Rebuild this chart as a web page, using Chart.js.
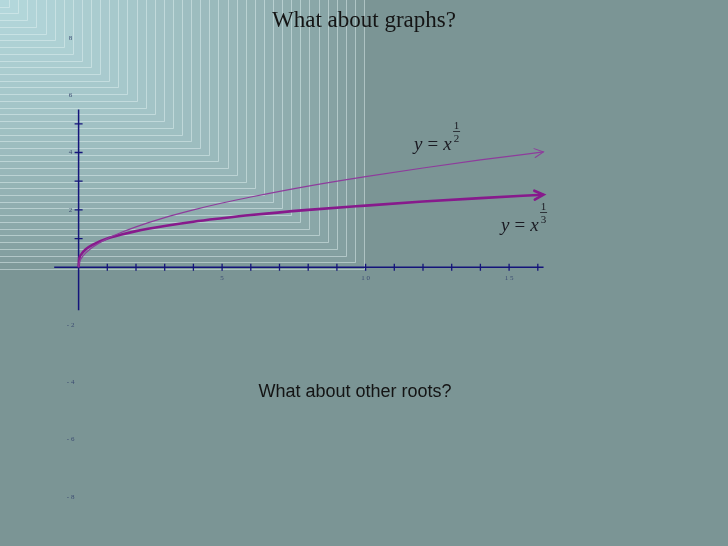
<!DOCTYPE html>
<html>
<head>
<meta charset="utf-8">
<title>What about graphs?</title>
<script src="https://cdn.jsdelivr.net/npm/chart.js@4/dist/chart.umd.min.js"></script>
<style>
  html, body { margin: 0; padding: 0; background: #7b9595; }
  #wrap { position: relative; width: 728px; height: 546px; }
</style>
</head>
<body>
<div id="wrap"><canvas id="chart"></canvas></div>
<script>
'use strict';

// ── DATA ─────────────────────────────────────────────────────

const X_VALUES    = [0, 0.02, 0.1, 0.25, 0.5, 1, 1.5, 2, 3, 4, 5, 6, 8, 10, 12, 14, 16.2];
const SQRT_VALUES = [0, 0.14, 0.32, 0.5, 0.71, 1, 1.22, 1.41, 1.73, 2, 2.24, 2.45, 2.83, 3.16, 3.46, 3.74, 4.02];
const CBRT_VALUES = [0, 0.27, 0.46, 0.63, 0.79, 1, 1.14, 1.26, 1.44, 1.59, 1.71, 1.82, 2, 2.15, 2.29, 2.41, 2.53];

const X_TICKS  = [1, 2, 3, 4, 5, 6, 7, 8, 9, 10, 11, 12, 13, 14, 15, 16];
const Y_TICKS  = [1, 2, 3, 4, 5];
const X_LABELS = [5, 10, 15];
const Y_LABELS = [8, 6, 4, 2, -2, -4, -6, -8];

const X_AXIS_RANGE = [-0.85, 16.2];
const Y_AXIS_RANGE = [-1.5, 5.5];

const TITLE   = 'What about graphs?';
const CAPTION = 'What about other roots?';

// ── COLOURS ──────────────────────────────────────────────────

const BG       = [123, 149, 149];
const BG_LIGHT = [180, 216, 220];
const AXIS     = '#14147a';
const THIN     = '#8e3c9c';
const THICK    = '#871a8c';

function mix(a, b, t) {
  return 'rgb(' + a.map((v, i) => Math.round(v + (b[i] - v) * t)).join(',') + ')';
}

// ── PLUGINS ──────────────────────────────────────────────────

const slideBackground = {
  id: 'slideBackground',
  beforeDraw(chart) {
    const ctx = chart.ctx;
    ctx.save();
    ctx.fillStyle = mix(BG, BG, 0);
    ctx.fillRect(0, 0, chart.width, chart.height);
    const N = 40, W0 = 364, H0 = 269;
    for (let i = 0; i < N; i++) {
      const k = 1 - i / N;
      const w = W0 * k, h = H0 * k;
      ctx.fillStyle = mix(BG, BG_LIGHT, Math.pow((i + 1) / N, 0.7));
      ctx.fillRect(0, 0, w, h);
      ctx.strokeStyle = 'rgba(225,242,242,0.5)';
      ctx.lineWidth = 1;
      ctx.beginPath();
      ctx.moveTo(Math.round(w) + 0.5, 0);
      ctx.lineTo(Math.round(w) + 0.5, Math.round(h) + 0.5);
      ctx.lineTo(0, Math.round(h) + 0.5);
      ctx.stroke();
    }
    ctx.restore();
  }
};

const axesPlugin = {
  id: 'axesPlugin',
  beforeDatasetsDraw(chart) {
    const { ctx, scales: { x, y } } = chart;
    const x0 = x.getPixelForValue(0), y0 = y.getPixelForValue(0);
    ctx.save();
    ctx.strokeStyle = AXIS;
    ctx.lineWidth = 1.5;
    ctx.beginPath();
    ctx.moveTo(x.getPixelForValue(X_AXIS_RANGE[0]), y0);
    ctx.lineTo(x.getPixelForValue(X_AXIS_RANGE[1]), y0);
    ctx.moveTo(x0, y.getPixelForValue(Y_AXIS_RANGE[0]));
    ctx.lineTo(x0, y.getPixelForValue(Y_AXIS_RANGE[1]));
    ctx.stroke();

    ctx.lineWidth = 1.3;
    ctx.beginPath();
    X_TICKS.forEach(v => {
      const px = x.getPixelForValue(v);
      ctx.moveTo(px, y0 - 3.5);
      ctx.lineTo(px, y0 + 3.5);
    });
    Y_TICKS.forEach(v => {
      const py = y.getPixelForValue(v);
      ctx.moveTo(x0 - 4, py);
      ctx.lineTo(x0 + 4, py);
    });
    ctx.stroke();

    ctx.fillStyle = '#3c4c72';
    ctx.font = '7px "Liberation Serif"';
    ctx.textAlign = 'center';
    ctx.textBaseline = 'middle';
    X_LABELS.forEach(v => {
      ctx.fillText(String(v).split('').join(' '), x.getPixelForValue(v), y0 + 11);
    });
    Y_LABELS.forEach(v => {
      ctx.fillText(v < 0 ? '- ' + (-v) : String(v), x0 - 8, y.getPixelForValue(v));
    });
    ctx.restore();
  }
};

function drawArrow(ctx, meta, color, width, size) {
  const pts = meta.data;
  const a = pts[pts.length - 2], b = pts[pts.length - 1];
  const ang = Math.atan2(b.y - a.y, b.x - a.x);
  ctx.save();
  ctx.translate(b.x, b.y);
  ctx.rotate(ang);
  ctx.strokeStyle = color;
  ctx.lineWidth = width;
  ctx.lineJoin = 'miter';
  ctx.lineCap = 'round';
  ctx.beginPath();
  ctx.moveTo(-size, -size * 0.5);
  ctx.lineTo(0, 0);
  ctx.lineTo(-size, size * 0.5);
  ctx.stroke();
  ctx.restore();
}

function drawPower(ctx, x, baseline, den) {
  ctx.save();
  ctx.fillStyle = '#1a1a22';
  ctx.textBaseline = 'alphabetic';
  ctx.textAlign = 'left';
  ctx.font = 'italic 19px "Liberation Serif"';
  ctx.fillText('y', x, baseline);
  let cx = x + ctx.measureText('y').width + 5;
  ctx.font = '19px "Liberation Serif"';
  ctx.fillText('=', cx, baseline);
  cx += ctx.measureText('=').width + 5;
  ctx.font = 'italic 19px "Liberation Serif"';
  ctx.fillText('x', cx, baseline);
  cx += ctx.measureText('x').width + 5;
  ctx.font = '11px "Liberation Serif"';
  ctx.textAlign = 'center';
  ctx.fillText('1', cx, baseline - 21);
  ctx.fillText(String(den), cx, baseline - 8);
  ctx.strokeStyle = '#1a1a22';
  ctx.lineWidth = 0.8;
  ctx.beginPath();
  ctx.moveTo(cx - 3.5, baseline - 18.5);
  ctx.lineTo(cx + 3.5, baseline - 18.5);
  ctx.stroke();
  ctx.restore();
}

const annotations = {
  id: 'annotations',
  afterDatasetsDraw(chart) {
    const ctx = chart.ctx;
    drawArrow(ctx, chart.getDatasetMeta(0), THIN, 1, 9);
    drawArrow(ctx, chart.getDatasetMeta(1), THICK, 2.6, 9);

    drawPower(ctx, 414, 150, 2);
    drawPower(ctx, 501, 231, 3);

    ctx.save();
    ctx.fillStyle = '#141414';
    ctx.textAlign = 'center';
    ctx.textBaseline = 'alphabetic';
    ctx.font = '23px "Liberation Serif"';
    ctx.fillText(TITLE, 364, 27);
    ctx.font = '18px "Liberation Sans"';
    ctx.fillText(CAPTION, 355, 397);
    ctx.restore();
  }
};

// ── CHART ────────────────────────────────────────────────────

const UNIT = 28.7, ORIGIN_X = 78.6, ORIGIN_Y = 267.3;

function initChart() {
  const ctx = document.getElementById('chart');
  new Chart(ctx, {
    type: 'line',
    data: {
      datasets: [
        {
          label: 'y = x^(1/2)',
          data: X_VALUES.map((x, i) => ({ x, y: SQRT_VALUES[i] })),
          borderColor: THIN,
          borderWidth: 1.2,
          pointRadius: 0,
          cubicInterpolationMode: 'monotone'
        },
        {
          label: 'y = x^(1/3)',
          data: X_VALUES.map((x, i) => ({ x, y: CBRT_VALUES[i] })),
          borderColor: THICK,
          borderWidth: 2.6,
          pointRadius: 0,
          cubicInterpolationMode: 'monotone'
        }
      ]
    },
    options: {
      responsive: true,
      maintainAspectRatio: false,
      animation: false,
      layout: { padding: 0 },
      plugins: {
        legend: { display: false },
        tooltip: { enabled: false }
      },
      scales: {
        x: {
          type: 'linear',
          display: false,
          min: -ORIGIN_X / UNIT,
          max: (728 - ORIGIN_X) / UNIT
        },
        y: {
          type: 'linear',
          display: false,
          min: (ORIGIN_Y - 546) / UNIT,
          max: ORIGIN_Y / UNIT
        }
      }
    },
    plugins: [slideBackground, axesPlugin, annotations]
  });
}

initChart();
</script>
</body>
</html>
